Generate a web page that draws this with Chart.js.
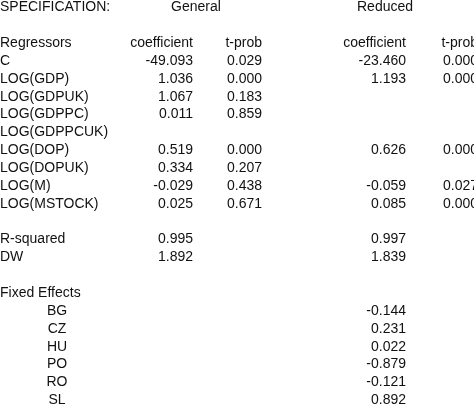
<!DOCTYPE html>
<html>
<head>
<meta charset="utf-8">
<script src="https://cdn.jsdelivr.net/npm/chart.js@4/dist/chart.umd.min.js"></script>
<style>
html,body{margin:0;padding:0;background:#fff;}
#wrap{width:474px;height:409px;}
</style>
</head>
<body>
<div id="wrap"><canvas id="myChart"></canvas></div>
<script>
// table content, one entry per row (blank rows are '')
var rowLabels = ['SPECIFICATION:', '', 'Regressors', 'C', 'LOG(GDP)', 'LOG(GDPUK)', 'LOG(GDPPC)', 'LOG(GDPPCUK)',
    'LOG(DOP)', 'LOG(DOPUK)', 'LOG(M)', 'LOG(MSTOCK)', '', 'R-squared', 'DW', '', 'Fixed Effects',
    'BG', 'CZ', 'HU', 'PO', 'RO', 'SL'];
var generalCoef = ['General', '', 'coefficient', '-49.093', '1.036', '1.067', '0.011', '', '0.519', '0.334', '-0.029', '0.025',
    '', '0.995', '1.892', '', '', '', '', '', '', '', ''];
var generalTprob = ['', '', 't-prob', '0.029', '0.000', '0.183', '0.859', '', '0.000', '0.207', '0.438', '0.671',
    '', '', '', '', '', '', '', '', '', '', ''];
var reducedCoef = ['Reduced', '', 'coefficient', '-23.460', '1.193', '', '', '', '0.626', '', '-0.059', '0.085',
    '', '0.997', '1.839', '', '', '-0.144', '0.231', '0.022', '-0.879', '-0.121', '0.892'];
var reducedTprob = ['', '', 't-prob', '0.000', '0.000', '', '', '', '0.000', '', '0.027', '0.000',
    '', '', '', '', '', '', '', '', '', '', ''];

var rowY = rowLabels.map(function(l, i){ return 7.5 + i * 17.85; });

var tablePlugin = {
    id: 'tableText',
    afterDraw: function(chart){
        var ctx = chart.ctx, sx = chart.scales.x, sy = chart.scales.y;
        ctx.save();
        ctx.font = '14px "Liberation Sans", Arial, sans-serif';
        ctx.fillStyle = '#111';
        ctx.textBaseline = 'middle';
        function put(txt, x, y, align){
            if(!txt) return;
            ctx.textAlign = align;
            ctx.fillText(txt, sx.getPixelForValue(x), sy.getPixelForValue(y));
        }
        for(var i = 0; i < rowLabels.length; i++){
            var y = rowY[i];
            if(i >= 17) put(rowLabels[i], 57, y, 'center');
            else put(rowLabels[i], 0, y, 'left');
            if(i == 0){
                put(generalCoef[i], 196, y, 'center');
                put(reducedCoef[i], 385, y, 'center');
                continue;
            }
            put(generalCoef[i], 193, y, 'right');
            put(generalTprob[i], 262, y, 'right');
            put(reducedCoef[i], 406, y, 'right');
            put(reducedTprob[i], 478, y, 'right');
        }
        ctx.restore();
    }
};

const config = {
    type: 'scatter',
    data: {
        datasets: [{
            data: rowY.map(function(y){ return {x: 0, y: y}; }),
            pointRadius: 0
        }]
    },
    options: {
        responsive: true,
        maintainAspectRatio: false,
        animation: false,
        layout: { padding: 0 },
        plugins: { legend: { display: false }, tooltip: { enabled: false } },
        scales: {
            x: { type: 'linear', min: 0, max: 474, display: false },
            y: { type: 'linear', min: 0, max: 409, reverse: true, display: false }
        }
    },
    plugins: [tablePlugin]
};

const myChart = new Chart(document.getElementById('myChart'), config);
</script>
</body>
</html>
